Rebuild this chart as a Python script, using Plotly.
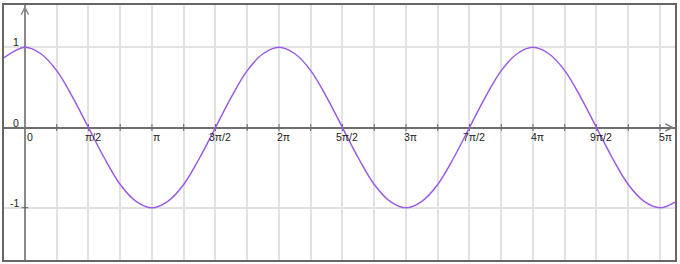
import numpy as np
import plotly.graph_objects as go

PI = np.pi

# Curve samples: x in radians, y values at every pi/8 step
curve_x = [-0.518] + [k * PI / 8 for k in range(41)] + [16.079]
curve_y = [0.87,
           1.0, 0.92, 0.71, 0.38, 0.0, -0.38, -0.71, -0.92,
           -1.0, -0.92, -0.71, -0.38, 0.0, 0.38, 0.71, 0.92,
           1.0, 0.92, 0.71, 0.38, 0.0, -0.38, -0.71, -0.92,
           -1.0, -0.92, -0.71, -0.38, 0.0, 0.38, 0.71, 0.92,
           1.0, 0.92, 0.71, 0.38, 0.0, -0.38, -0.71, -0.92,
           -1.0,
           -0.93]

# Tick labels
x_tick_vals = [k * PI / 2 for k in range(11)]
x_tick_text = ['0', 'π/2', 'π', '3π/2', '2π', '5π/2', '3π', '7π/2', '4π', '9π/2', '5π']
x_minor_ticks = [k * PI / 4 for k in range(1, 21)]
y_tick_vals = [1, 0, -1]
y_tick_text = ['1', '0', '-1']

x_range = [-0.518, 16.079]
y_range = [-1.652, 1.528]

LABEL_FONT = dict(family='Liberation Sans, Arial, sans-serif', size=10.5, color='#222')

fig = go.Figure()

# small tick marks on the axes
fig.add_trace(go.Scatter(
    x=x_minor_ticks, y=[0] * len(x_minor_ticks), mode='markers',
    marker=dict(symbol='line-ns', size=5, line=dict(width=1, color='#666')),
    hoverinfo='skip', showlegend=False))
fig.add_trace(go.Scatter(
    x=[0, 0], y=[1, -1], mode='markers',
    marker=dict(symbol='line-ew', size=5, line=dict(width=1, color='#666')),
    hoverinfo='skip', showlegend=False))

# the curve
fig.add_trace(go.Scatter(
    x=curve_x, y=curve_y, mode='lines',
    line=dict(color='#9a5ce6', width=1.5, shape='spline', smoothing=1.0),
    hoverinfo='skip', showlegend=False))

annotations = []
for v, t in zip(x_tick_vals, x_tick_text):
    annotations.append(dict(x=v, y=0, xref='x', yref='y', text=t, showarrow=False,
                            xanchor='center', yanchor='middle', xshift=5, yshift=-9,
                            font=LABEL_FONT))
for v, t in zip(y_tick_vals, y_tick_text):
    annotations.append(dict(x=0, y=v, xref='x', yref='y', text=t, showarrow=False,
                            xanchor='right', yanchor='middle', xshift=-4, yshift=5,
                            font=LABEL_FONT))
# axis arrows
annotations.append(dict(x=0, y=y_range[1] - 0.01, xref='x', yref='y', ax=0, ay=8,
                        axref='pixel', ayref='pixel', text='', showarrow=True,
                        arrowhead=5, arrowsize=1.2, arrowwidth=1.2, arrowcolor='#888'))
annotations.append(dict(x=x_range[1] - 0.02, y=0, xref='x', yref='y', ax=-8, ay=0,
                        axref='pixel', ayref='pixel', text='', showarrow=True,
                        arrowhead=5, arrowsize=1.2, arrowwidth=1.2, arrowcolor='#777'))

fig.update_layout(
    width=680, height=264,
    margin=dict(l=4, r=3, t=4, b=4),
    paper_bgcolor='white', plot_bgcolor='white',
    showlegend=False,
    annotations=annotations,
    xaxis=dict(range=x_range, tick0=0, dtick=PI / 4, showticklabels=False, ticks='',
               showgrid=True, gridcolor='#e2e2e2', gridwidth=1.5,
               zeroline=True, zerolinecolor='#8a8a8a', zerolinewidth=2,
               showline=True, mirror=True, linecolor='#666', linewidth=2,
               fixedrange=True),
    yaxis=dict(range=y_range, tick0=0, dtick=1, showticklabels=False, ticks='',
               showgrid=True, gridcolor='#e2e2e2', gridwidth=1.5,
               zeroline=True, zerolinecolor='#6e6e6e', zerolinewidth=1.5,
               showline=True, mirror=True, linecolor='#666', linewidth=2,
               fixedrange=True),
)

fig.write_html('out.html')
